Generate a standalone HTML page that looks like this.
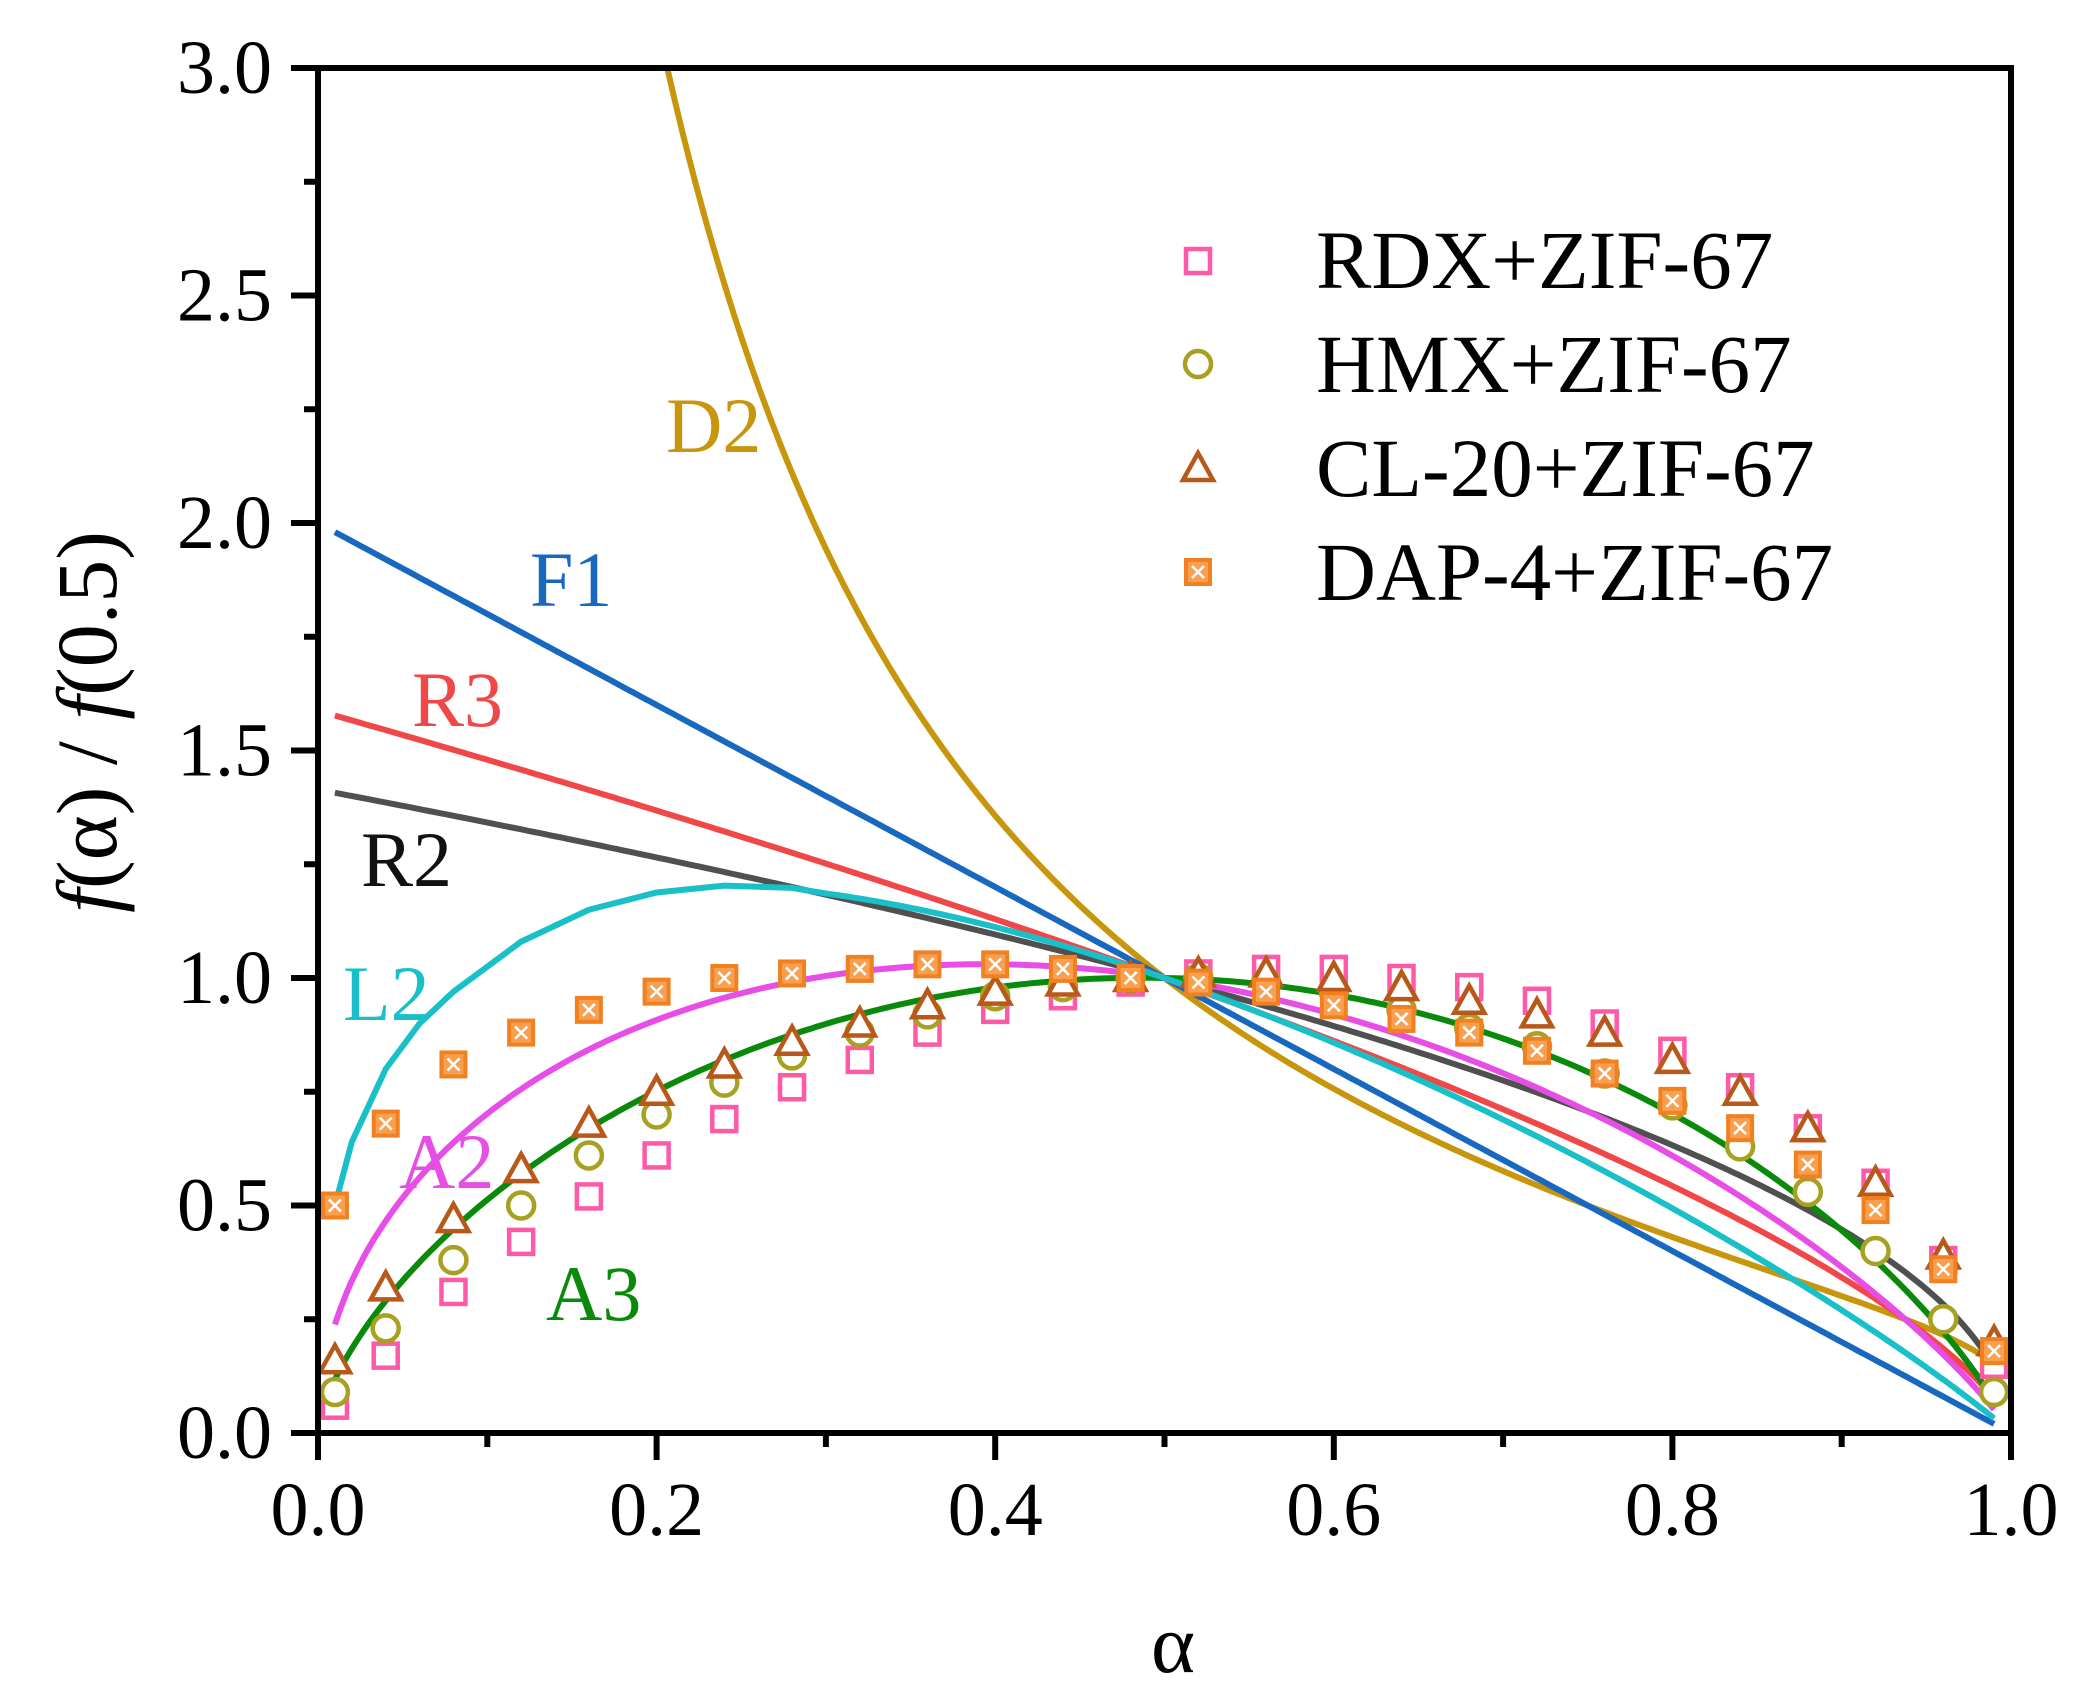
<!DOCTYPE html>
<html><head><meta charset="utf-8"><style>
html,body{margin:0;padding:0;background:#fff;}
svg{display:block;}
text{font-family:"Liberation Serif",serif;}
</style></head><body>
<svg id="s" width="2084" height="1699" viewBox="0 0 2084 1699" xmlns="http://www.w3.org/2000/svg">
<defs><clipPath id="c"><rect x="318" y="68" width="1693" height="1365"/></clipPath></defs>
<rect width="2084" height="1699" fill="#fff"/>
<g id="curves" clip-path="url(#c)" fill="none" stroke-width="6" stroke-linejoin="round"></g>
<g id="marks"></g>
<rect x="318" y="68" width="1693" height="1365" fill="none" stroke="#000" stroke-width="6"/>
<g id="ticks" stroke="#000" stroke-width="6"></g>
<g id="labels" font-size="76" fill="#000"></g>
<g font-size="78">
<text x="666" y="452" fill="#c8960c">D2</text>
<text x="530" y="606" fill="#1868c0">F1</text>
<text x="412" y="726" fill="#f04848">R3</text>
<text x="361" y="886" fill="#111">R2</text>
<text x="343" y="1020" fill="#19c0c8">L2</text>
<text x="399" y="1188" fill="#e64ee6">A2</text>
<text x="546" y="1320" fill="#0a8a0a">A3</text>
</g>
<text transform="translate(116,722) rotate(-90)" font-size="86" text-anchor="middle"><tspan font-style="italic">f</tspan>(α) / <tspan font-style="italic">f</tspan>(0.5)</text>
<text x="1173" y="1672" font-size="84" text-anchor="middle">α</text>
<g font-size="83" fill="#000">
<text x="1316" y="288">RDX+ZIF-67</text>
<text x="1316" y="392">HMX+ZIF-67</text>
<text x="1316" y="496">CL-20+ZIF-67</text>
<text x="1316" y="600">DAP-4+ZIF-67</text>
</g>
<g id="leg"></g>
</svg>
<script>
var NS="http://www.w3.org/2000/svg";
function X(a){return 318+a*1693;}
function Y(v){return 1433-v*455;}
function el(t,at,p){var e=document.createElementNS(NS,t);for(var k in at)e.setAttribute(k,at[k]);p.appendChild(e);return e;}
var cg=document.getElementById('curves');
function curve(f,col,a0,a1){var d="";for(var i=0;i<=300;i++){var a=a0+(a1-a0)*i/300;var v=f(a);d+=(i?"L":"M")+X(a).toFixed(1)+","+Y(v).toFixed(1);}el('path',{d:d,stroke:col},cg);}
var L=function(a){return -Math.log(1-a);};
curve(function(a){return 0.6931/L(a);},"#c8960c",0.2,0.99);
curve(function(a){return 2*(1-a);},"#1868c0",0.01,0.99);
curve(function(a){return Math.pow(1-a,2/3)/Math.pow(0.5,2/3);},"#f04848",0.01,0.99);
curve(function(a){return Math.sqrt(1-a)/Math.SQRT1_2;},"#505050",0.01,0.99);
curve(function(a){return (1-a)*Math.pow(L(a),0.5)/(0.5*Math.pow(0.6931,0.5));},"#e64ee6",0.01,0.99);
curve(function(a){return (1-a)*Math.pow(L(a),2/3)/(0.5*Math.pow(0.6931,2/3));},"#0a8a0a",0.01,0.99);
(function(){var pts=[[0.01,0.5],[0.02,0.64],[0.04,0.8],[0.06,0.9],[0.08,0.97],[0.12,1.08],[0.16,1.15],[0.2,1.188],[0.24,1.203],[0.28,1.198]];
var d="";pts.forEach(function(p,i){d+=(i?"L":"M")+X(p[0])+","+Y(p[1]);});
for(var i=0;i<=200;i++){var a=0.3+0.69*i/200;var v=(1-a)*Math.pow(L(a),0.25)/(0.5*Math.pow(0.6931,0.25));d+="L"+X(a).toFixed(1)+","+Y(v).toFixed(1);}
el('path',{d:d,stroke:"#19c0c8"},cg);})();
var A=[0.01,0.04,0.08,0.12,0.16,0.2,0.24,0.28,0.32,0.36,0.40,0.44,0.48,0.52,0.56,0.6,0.64,0.68,0.72,0.76,0.8,0.84,0.88,0.92,0.96,0.99];
var RDX=[0.06,0.17,0.31,0.42,0.52,0.61,0.69,0.76,0.82,0.88,0.93,0.96,0.99,1.01,1.02,1.02,1.0,0.98,0.95,0.9,0.84,0.76,0.67,0.55,0.38,0.15];
var HMX=[0.09,0.23,0.38,0.5,0.61,0.7,0.77,0.83,0.88,0.92,0.96,0.98,1.0,1.0,0.99,0.97,0.93,0.89,0.85,0.79,0.72,0.63,0.53,0.4,0.25,0.09];
var CL=[0.16,0.32,0.47,0.58,0.68,0.75,0.81,0.86,0.9,0.94,0.97,0.99,1.0,1.01,1.01,1.0,0.98,0.95,0.92,0.88,0.82,0.75,0.67,0.55,0.39,0.2];
var DAP=[0.5,0.68,0.81,0.88,0.93,0.97,1.0,1.01,1.02,1.03,1.03,1.02,1.0,0.99,0.97,0.94,0.91,0.88,0.84,0.79,0.73,0.67,0.59,0.49,0.36,0.18];
var mg=document.getElementById('marks');
function sq(x,y,p){el('rect',{x:x-12,y:y-12,width:24,height:24,fill:"#fff",stroke:"#ff5aa8","stroke-width":4.5},p);}
function ci(x,y,p){el('circle',{cx:x,cy:y,r:13,fill:"#fff",stroke:"#a8a020","stroke-width":4.5},p);}
function tr(x,y,p){el('path',{d:"M"+x+","+(y-15)+"L"+(x+15)+","+(y+12)+"L"+(x-15)+","+(y+12)+"Z",fill:"#fff",stroke:"#b8581a","stroke-width":4.5},p);}
function cs(x,y,p){el('rect',{x:x-12,y:y-12,width:24,height:24,fill:"#f8a050",stroke:"#f08020","stroke-width":4},p);
el('path',{d:"M"+(x-6)+","+(y-6)+"L"+(x+6)+","+(y+6)+"M"+(x+6)+","+(y-6)+"L"+(x-6)+","+(y+6),stroke:"#fff","stroke-width":2.5},p);}
A.forEach(function(a,i){sq(X(a),Y(RDX[i]),mg);});
A.forEach(function(a,i){ci(X(a),Y(HMX[i]),mg);});
A.forEach(function(a,i){tr(X(a),Y(CL[i]),mg);});
A.forEach(function(a,i){cs(X(a),Y(DAP[i]),mg);});
var lg=document.getElementById('leg');
sq(1198,261,lg);ci(1198,364,lg);tr(1198,468,lg);cs(1198,572,lg);
var tg=document.getElementById('ticks'),lb=document.getElementById('labels');
for(var i=0;i<=10;i++){var a=i/10,x=X(a);el('line',{x1:x,y1:1433,x2:x,y2:i%2?1447:1460},tg);
if(i%2==0){var t=el('text',{x:x,y:1535,"text-anchor":"middle"},lb);t.textContent=a.toFixed(1);}}
for(var j=0;j<=12;j++){var v=j*0.25,y=Y(v);el('line',{x1:318,y1:y,x2:j%2?304:291,y2:y},tg);
if(j%2==0){var t=el('text',{x:272,y:y+25,"text-anchor":"end"},lb);t.textContent=v.toFixed(1);}}
</script>
</body></html>
